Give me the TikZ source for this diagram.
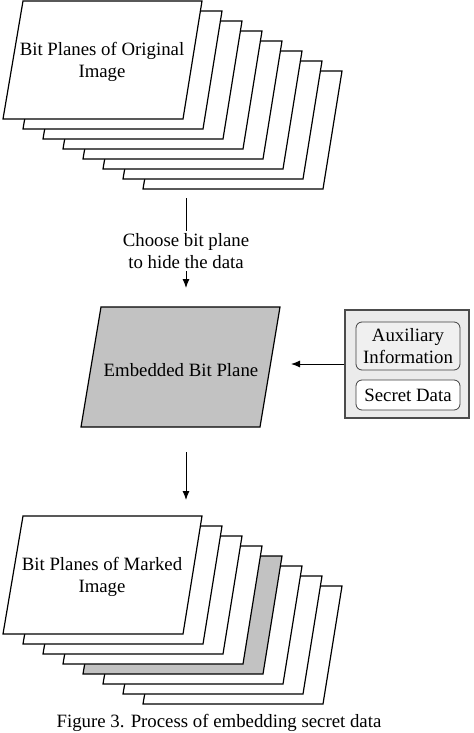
\documentclass[tikz,border=0pt]{standalone}
\usepackage{fontspec}
\setmainfont{Liberation Serif}
\usetikzlibrary{arrows.meta, shapes, positioning}
\definecolor{planegray}{RGB}{194,194,194}
\definecolor{boxgray}{RGB}{235,235,235}
\definecolor{auxgray}{RGB}{240,240,240}
\newcommand{\figfont}{\fontsize{9.4}{11}\selectfont}
\tikzset{%
  >={Latex[width=3.5pt,length=4.5pt]},
  % Specifications for style of nodes:
	plane/.style = {draw, fill=white, line width=0.6pt},
	label/.style = {align=center, font=\figfont, inner sep=1pt},
	sidebox/.style = {draw=black!70, fill=boxgray, line width=0.6pt,
	                  minimum width=62pt, minimum height=54pt},
	infobox/.style = {draw=black!75, rounded corners=3pt, align=center,
	                  font=\figfont, minimum width=52pt, inner sep=1pt},
	norm/.style={->, draw, black, line width=0.5pt},
	line/.style={draw, black, line width=0.5pt},
}

\begin{document}
\begin{tikzpicture}[x=0.5pt, y=-0.5pt]
  \useasboundingbox (0,0) rectangle (474,733);

  % Stack of original bit planes, back to front
  \foreach \i in {7,...,0}
    \draw [plane] ({3+20*\i},{1+10*\i}) ++(20,0) -- ++(179,0) -- ++(-19,118) -- ++(-180,0) -- cycle;
  \node (orig) [label] at (102,62) {Bit Planes of Original\\ Image};

  % Embedded plane
  \draw [plane, fill=planegray] (81,427) -- (101,307) -- (280,307) -- (260,427) -- cycle;
  \node (embed) [label] at (181,370) {Embedded Bit Plane};

  % Stack of marked bit planes, back to front
  \foreach \i/\c in {7/white,6/white,5/white,4/planegray,3/white,2/white,1/white,0/white}
    \draw [plane, fill=\c] ({3+20*\i},{516+10*\i}) ++(20,0) -- ++(179,0) -- ++(-19,118) -- ++(-180,0) -- cycle;
  \node (marked) [label] at (102,577) {Bit Planes of Marked\\ Image};

  % Secret data side box
  \node (side) [sidebox] at (407,364) {};
  \node (aux) [infobox, fill=auxgray, minimum height=24pt] at (408,346) {Auxiliary\\ Information};
  \node (secret) [infobox, fill=white, minimum height=15pt] at (408,395) {Secret Data};

  \node (choose) [label] at (186,251) {Choose bit plane\\ to hide the data};

  \coordinate (c1) at (186,198);
  \coordinate (c2) at (186,288);
  \coordinate (c3) at (291,364);
  \coordinate (c4) at (186,452);
  \coordinate (c5) at (186,500);

  \draw [line] (c1) -- (choose.north);
  \draw [norm] (choose.south) -- (c2);
  \draw [norm] (side.west) -- (c3);
  \draw [norm] (c4) -- (c5);

  \node (caption) [font=\figfont, anchor=base, inner sep=0pt] at (219,727) {Figure 3. Process of embedding secret data};
\end{tikzpicture}
\end{document}
